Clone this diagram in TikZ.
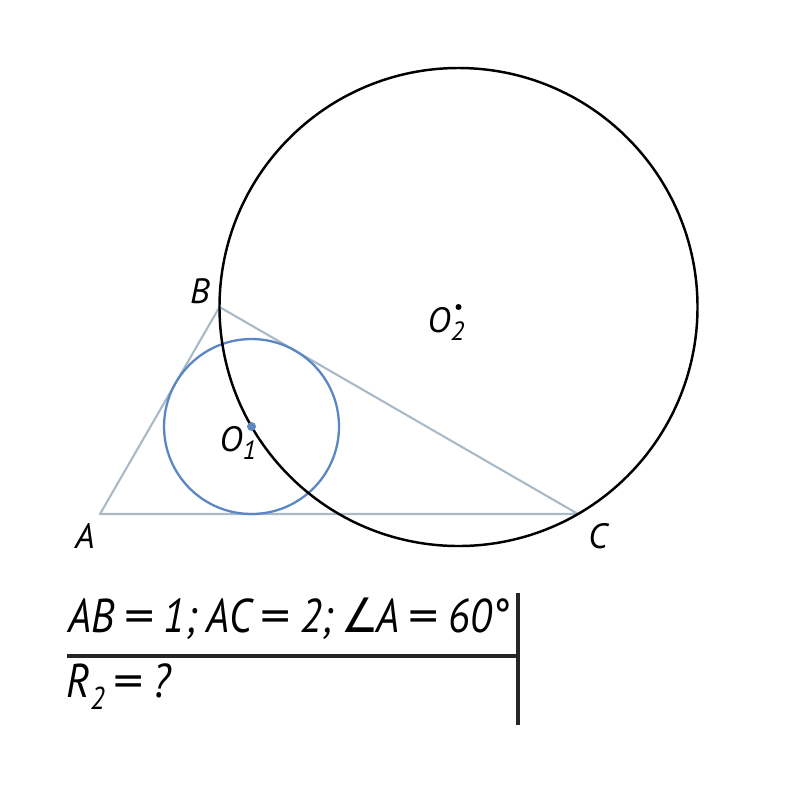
\documentclass[tikz,border=0pt]{standalone}
\usepackage{fontspec}
\usepackage{graphicx}
\setmainfont{PT Sans}
\newfontfamily\symfnt{DejaVu Sans}
\definecolor{trigrey}{HTML}{A9BAC6}
\definecolor{inblue}{HTML}{5A86C4}
\newcommand{\wEq}{\hspace{0.22em}\scalebox{1.45}[1]{\upshape =}\hspace{0.22em}}
\begin{document}
\begin{tikzpicture}[x=1cm,y=1cm,
  lbl/.style={font=\fontsize{10}{12}\selectfont\itshape, inner sep=0pt},
  frm/.style={font=\fontsize{13.5}{16}\selectfont\itshape, inner sep=0pt, anchor=base west}]
\useasboundingbox (0,0) rectangle (8,8);
\def\u{2.39}
\coordinate (A) at (1.00,2.86);
\coordinate (B) at ({1+\u*0.5},{2.86+\u*0.866025});
\coordinate (C) at ({1+2*\u},2.86);
\coordinate (O1) at ({1+\u*0.633975},{2.86+\u*0.366025});
\coordinate (O2) at ({1+\u*1.5},{2.86+\u*0.866025});
\draw[trigrey, line width=0.6pt, line join=round] (A) -- (B) -- (C) -- cycle;
\draw[inblue, line width=0.65pt] (O1) circle ({\u*0.366025});
\draw[black, line width=0.7pt] (O2) circle (\u);
\fill[inblue] (O1) circle (0.045);
\fill[black] (O2) circle (0.03);
\node[lbl] (lA) at (0.85,2.64) {A};
\node[lbl] (lB) at (2.00,5.09) {B};
\node[lbl] (lC) at (5.98,2.64) {C};
\node[lbl] (lO1) at (2.38,3.57) {O\raisebox{-0.5ex}{\fontsize{7.5}{8}\selectfont 1}};
\node[lbl] (lO2) at (4.46,4.76) {O\raisebox{-0.5ex}{\fontsize{7.5}{8}\selectfont 2}};
\node[frm] (f1) at (0.68,1.67) {\scalebox{0.875}[1]{AB\wEq 1;\hspace{0.25em}AC\wEq 2;\hspace{0.2em}{\symfnt\upshape ∠}\hspace{-0.05em}A\wEq 60°}};
\node[frm] (f2) at (0.66,1.02) {\scalebox{0.875}[1]{R\raisebox{-0.5ex}{\fontsize{9}{10}\selectfont 2}\wEq ?}};
\coordinate (h1) at (0.67,1.44);
\coordinate (h2) at (5.20,1.44);
\coordinate (v1) at (5.18,2.07);
\coordinate (v2) at (5.18,0.75);
\draw[line width=0.9pt, color=black!85] (h1) -- (h2);
\draw[line width=0.9pt, color=black!85] (v1) -- (v2);
\end{tikzpicture}
\end{document}
